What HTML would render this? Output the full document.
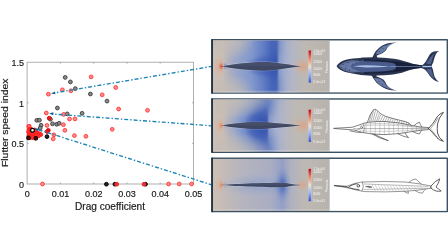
<!DOCTYPE html>
<html><head><meta charset="utf-8"><title>Flutter speed index vs drag coefficient</title>
<style>
html,body{margin:0;padding:0;background:#fff;}
body{width:448px;height:252px;overflow:hidden;font-family:"Liberation Sans",sans-serif;}
svg{display:block}
</style></head><body>
<svg width="448" height="252" viewBox="0 0 448 252">
<defs>
<linearGradient id="lr" x1="0" x2="1" y1="0" y2="0">
<stop offset="0" stop-color="#cdbfb4"/><stop offset="0.25" stop-color="#c2bcb8"/><stop offset="0.8" stop-color="#bdb8b2"/><stop offset="1" stop-color="#b7b2ab"/>
</linearGradient>
<radialGradient id="band"><stop offset="0" stop-color="#2f52ad" stop-opacity="0.95"/><stop offset="0.45" stop-color="#4466bb" stop-opacity="0.6"/><stop offset="1" stop-color="#7f98d0" stop-opacity="0"/></radialGradient>
<radialGradient id="haze"><stop offset="0" stop-color="#6f8ccc" stop-opacity="0.75"/><stop offset="0.6" stop-color="#8aa0d2" stop-opacity="0.4"/><stop offset="1" stop-color="#a8b4d0" stop-opacity="0"/></radialGradient>
<radialGradient id="redg"><stop offset="0" stop-color="#dd2a18" stop-opacity="1"/><stop offset="0.3" stop-color="#e6583a" stop-opacity="0.8"/><stop offset="1" stop-color="#e6906c" stop-opacity="0"/></radialGradient>
<radialGradient id="orgc"><stop offset="0" stop-color="#e8683c" stop-opacity="1"/><stop offset="0.35" stop-color="#e88458" stop-opacity="0.7"/><stop offset="1" stop-color="#e6a080" stop-opacity="0"/></radialGradient>
<radialGradient id="redg2"><stop offset="0" stop-color="#e88a64" stop-opacity="0.6"/><stop offset="0.5" stop-color="#e2a486" stop-opacity="0.28"/><stop offset="1" stop-color="#d8b4a0" stop-opacity="0"/></radialGradient>
<radialGradient id="lebl"><stop offset="0" stop-color="#4a78e0" stop-opacity="0.9"/><stop offset="1" stop-color="#8aa4dc" stop-opacity="0"/></radialGradient>
<radialGradient id="deepb"><stop offset="0" stop-color="#3453ae" stop-opacity="1"/><stop offset="0.6" stop-color="#3a59b2" stop-opacity="0.6"/><stop offset="1" stop-color="#4463b8" stop-opacity="0"/></radialGradient>
<radialGradient id="mask"><stop offset="0" stop-color="#c4bdb6" stop-opacity="0.95"/><stop offset="0.5" stop-color="#c3bcb6" stop-opacity="0.6"/><stop offset="1" stop-color="#c0bbb6" stop-opacity="0"/></radialGradient>
<linearGradient id="vfade" x1="0" x2="0" y1="0" y2="1"><stop offset="0" stop-color="#c0bbb6" stop-opacity="0.22"/><stop offset="0.4" stop-color="#c0bbb6" stop-opacity="0"/><stop offset="0.6" stop-color="#c0bbb6" stop-opacity="0"/><stop offset="1" stop-color="#c0bbb6" stop-opacity="0.22"/></linearGradient>
<radialGradient id="org"><stop offset="0" stop-color="#e89a70" stop-opacity="0.7"/><stop offset="1" stop-color="#d8b098" stop-opacity="0"/></radialGradient>
<linearGradient id="cbar" x1="0" x2="0" y1="0" y2="1"><stop offset="0" stop-color="#b40426"/><stop offset="0.25" stop-color="#ee8468"/><stop offset="0.5" stop-color="#e6e2e0"/><stop offset="0.75" stop-color="#8db0fe"/><stop offset="1" stop-color="#3550d8"/></linearGradient>
<filter id="bl2" x="-10%" y="-50%" width="120%" height="200%"><feGaussianBlur stdDeviation="0.35"/></filter>
<filter id="bl1" x="-10%" y="-10%" width="120%" height="120%"><feGaussianBlur stdDeviation="0.7"/></filter>
<clipPath id="clip1"><rect x="213" y="40.4" width="116.3" height="52.2"/></clipPath>
<clipPath id="clip2"><rect x="213" y="99.6" width="116.3" height="52.2"/></clipPath>
<clipPath id="clip3"><rect x="213" y="158.9" width="116.3" height="52.2"/></clipPath>
</defs>
<rect width="448" height="252" fill="#fff"/>
<!-- plot box -->
<rect x="27.1" y="62.2" width="166.4" height="121.8" fill="none" stroke="#9b9b9b" stroke-width="0.8"/>
<g stroke="#8a8a8a" stroke-width="0.6">
<path d="M60.4,184V182.4 M93.7,184V182.4 M127,184V182.4 M160.2,184V182.4 M60.4,62.2V63.8 M93.7,62.2V63.8 M127,62.2V63.8 M160.2,62.2V63.8"/>
<path d="M27.1,143.4H28.7 M27.1,102.8H28.7 M193.5,143.4H191.9 M193.5,102.8H191.9"/>
</g>
<g font-family="'Liberation Sans', sans-serif" font-size="9" fill="#1a1a1a" stroke="#1a1a1a" stroke-width="0.18">
<g text-anchor="end">
<text x="24" y="66.4">1.5</text>
<text x="24" y="106.9">1</text>
<text x="24" y="147.3">0.5</text>
<text x="24" y="187.6">0</text>
</g>
<g text-anchor="middle">
<text x="27.2" y="197.2">0</text>
<text x="60.4" y="197.2">0.01</text>
<text x="93.7" y="197.2">0.02</text>
<text x="127" y="197.2">0.03</text>
<text x="160.2" y="197.2">0.04</text>
<text x="193.5" y="197.2">0.05</text>
</g>
<text x="75" y="210.1" font-size="10.1">Drag coefficient</text>
<text transform="translate(7.9,167.1) rotate(-90) scale(1.16,1)" font-size="9">Flutter speed index</text>
</g>
<!-- points -->
<circle cx="65.2" cy="77.4" r="1.9" fill="#8a8a8a" stroke="#3a3a3a" stroke-width="0.9"/>
<circle cx="70.4" cy="81.9" r="1.9" fill="#8a8a8a" stroke="#3a3a3a" stroke-width="0.9"/>
<circle cx="75.3" cy="88.6" r="1.9" fill="#8a8a8a" stroke="#3a3a3a" stroke-width="0.9"/>
<circle cx="90.4" cy="94" r="1.9" fill="#8a8a8a" stroke="#3a3a3a" stroke-width="0.9"/>
<circle cx="57.4" cy="108" r="1.9" fill="#8a8a8a" stroke="#3a3a3a" stroke-width="0.9"/>
<circle cx="67.2" cy="113.9" r="1.9" fill="#8a8a8a" stroke="#3a3a3a" stroke-width="0.9"/>
<circle cx="82.1" cy="113.3" r="1.9" fill="#8a8a8a" stroke="#3a3a3a" stroke-width="0.9"/>
<circle cx="107" cy="101.1" r="1.9" fill="#8a8a8a" stroke="#3a3a3a" stroke-width="0.9"/>
<circle cx="36.8" cy="120.3" r="1.9" fill="#8a8a8a" stroke="#3a3a3a" stroke-width="0.9"/>
<circle cx="39.4" cy="120.2" r="1.9" fill="#8a8a8a" stroke="#3a3a3a" stroke-width="0.9"/>
<circle cx="50.4" cy="119.2" r="1.9" fill="#8a8a8a" stroke="#3a3a3a" stroke-width="0.9"/>
<circle cx="52.5" cy="123.8" r="1.9" fill="#8a8a8a" stroke="#3a3a3a" stroke-width="0.9"/>
<circle cx="56.7" cy="124.3" r="1.9" fill="#8a8a8a" stroke="#3a3a3a" stroke-width="0.9"/>
<circle cx="59.2" cy="123.3" r="1.9" fill="#8a8a8a" stroke="#3a3a3a" stroke-width="0.9"/>
<circle cx="41.1" cy="125.3" r="1.9" fill="#8a8a8a" stroke="#3a3a3a" stroke-width="0.9"/>
<circle cx="40.2" cy="128" r="1.9" fill="#8a8a8a" stroke="#3a3a3a" stroke-width="0.9"/>
<circle cx="47" cy="136.6" r="1.9" fill="#222" stroke="#000" stroke-width="0.9"/>
<circle cx="106.4" cy="184.2" r="1.9" fill="#222" stroke="#000" stroke-width="0.9"/>
<circle cx="114.9" cy="184.2" r="1.9" fill="#222" stroke="#000" stroke-width="0.9"/>
<circle cx="145.5" cy="184.2" r="1.9" fill="#222" stroke="#000" stroke-width="0.9"/>
<circle cx="48.4" cy="94.2" r="1.9" fill="#ff8a8a" stroke="#ff3a3a" stroke-width="0.9"/>
<circle cx="62.4" cy="89.8" r="1.9" fill="#ff8a8a" stroke="#ff3a3a" stroke-width="0.9"/>
<circle cx="70.9" cy="90.8" r="1.9" fill="#ff8a8a" stroke="#ff3a3a" stroke-width="0.9"/>
<circle cx="91.1" cy="76.9" r="1.9" fill="#ff8a8a" stroke="#ff3a3a" stroke-width="0.9"/>
<circle cx="115.7" cy="87.5" r="1.9" fill="#ff8a8a" stroke="#ff3a3a" stroke-width="0.9"/>
<circle cx="102.2" cy="94.8" r="1.9" fill="#ff8a8a" stroke="#ff3a3a" stroke-width="0.9"/>
<circle cx="46.3" cy="113" r="1.9" fill="#ff8a8a" stroke="#ff3a3a" stroke-width="0.9"/>
<circle cx="63.6" cy="114.4" r="1.9" fill="#ff8a8a" stroke="#ff3a3a" stroke-width="0.9"/>
<circle cx="69.5" cy="119" r="1.9" fill="#ff8a8a" stroke="#ff3a3a" stroke-width="0.9"/>
<circle cx="75" cy="118.9" r="1.9" fill="#ff8a8a" stroke="#ff3a3a" stroke-width="0.9"/>
<circle cx="118.6" cy="109" r="1.9" fill="#ff8a8a" stroke="#ff3a3a" stroke-width="0.9"/>
<circle cx="147.5" cy="110.3" r="1.9" fill="#ff8a8a" stroke="#ff3a3a" stroke-width="0.9"/>
<circle cx="112.2" cy="129.3" r="1.9" fill="#ff8a8a" stroke="#ff3a3a" stroke-width="0.9"/>
<circle cx="63.4" cy="124.7" r="1.9" fill="#ff8a8a" stroke="#ff3a3a" stroke-width="0.9"/>
<circle cx="47" cy="125.4" r="1.9" fill="#ff8a8a" stroke="#ff3a3a" stroke-width="0.9"/>
<circle cx="28.7" cy="126.5" r="1.9" fill="#ff8a8a" stroke="#ff3a3a" stroke-width="0.9"/>
<circle cx="85.9" cy="136.3" r="1.9" fill="#ff8a8a" stroke="#ff3a3a" stroke-width="0.9"/>
<circle cx="53.9" cy="134.8" r="1.9" fill="#ff8a8a" stroke="#ff3a3a" stroke-width="0.9"/>
<circle cx="53.2" cy="138.9" r="1.9" fill="#ff8a8a" stroke="#ff3a3a" stroke-width="0.9"/>
<circle cx="64.9" cy="130.3" r="1.9" fill="#ff8a8a" stroke="#ff3a3a" stroke-width="0.9"/>
<circle cx="74.4" cy="135.6" r="1.9" fill="#ff8a8a" stroke="#ff3a3a" stroke-width="0.9"/>
<circle cx="42.5" cy="184" r="1.9" fill="#ff8a8a" stroke="#ff3a3a" stroke-width="0.9"/>
<circle cx="168.6" cy="184" r="1.9" fill="#ff8a8a" stroke="#ff3a3a" stroke-width="0.9"/>
<circle cx="179.2" cy="184" r="1.9" fill="#ff8a8a" stroke="#ff3a3a" stroke-width="0.9"/>
<circle cx="191.6" cy="184" r="1.9" fill="#ff8a8a" stroke="#ff3a3a" stroke-width="0.9"/>
<circle cx="29.2" cy="126.2" r="1.9" fill="#ff6a6a" stroke="#ff3030" stroke-width="0.9"/>
<circle cx="29" cy="129.6" r="1.9" fill="#ff3030" stroke="#ff1a1a" stroke-width="0.9"/>
<circle cx="31" cy="129.2" r="1.9" fill="#ff3030" stroke="#ff1a1a" stroke-width="0.9"/>
<circle cx="34.6" cy="130" r="1.9" fill="#ff3030" stroke="#ff1a1a" stroke-width="0.9"/>
<circle cx="28.6" cy="132" r="1.9" fill="#ff3030" stroke="#ff1a1a" stroke-width="0.9"/>
<circle cx="30.5" cy="133.5" r="1.9" fill="#ff3030" stroke="#ff1a1a" stroke-width="0.9"/>
<circle cx="33" cy="134" r="1.9" fill="#ff3030" stroke="#ff1a1a" stroke-width="0.9"/>
<circle cx="35.5" cy="132.6" r="1.9" fill="#ff3030" stroke="#ff1a1a" stroke-width="0.9"/>
<circle cx="37.5" cy="133" r="1.9" fill="#ff3030" stroke="#ff1a1a" stroke-width="0.9"/>
<circle cx="39.5" cy="133.8" r="1.9" fill="#ff3030" stroke="#ff1a1a" stroke-width="0.9"/>
<circle cx="40.8" cy="134.6" r="1.9" fill="#ff3030" stroke="#ff1a1a" stroke-width="0.9"/>
<circle cx="36" cy="135.5" r="1.9" fill="#ff3030" stroke="#ff1a1a" stroke-width="0.9"/>
<circle cx="38.5" cy="135.8" r="1.9" fill="#ff3030" stroke="#ff1a1a" stroke-width="0.9"/>
<circle cx="33.5" cy="136.5" r="1.9" fill="#ff3030" stroke="#ff1a1a" stroke-width="0.9"/>
<circle cx="31" cy="136.5" r="1.9" fill="#ff3030" stroke="#ff1a1a" stroke-width="0.9"/>
<circle cx="29" cy="135.5" r="1.9" fill="#ff3030" stroke="#ff1a1a" stroke-width="0.9"/>
<circle cx="30.5" cy="137.6" r="1.9" fill="#ff3030" stroke="#ff1a1a" stroke-width="0.9"/>
<circle cx="33" cy="137.6" r="1.9" fill="#ff3030" stroke="#ff1a1a" stroke-width="0.9"/>
<circle cx="28.5" cy="137.9" r="1.8" fill="#5a0808" stroke="#100000" stroke-width="1.1"/>
<circle cx="35.8" cy="138.3" r="1.8" fill="#5a0808" stroke="#100000" stroke-width="1.1"/>
<circle cx="49.2" cy="118.2" r="1.9" fill="#f01818" stroke="#d01010" stroke-width="0.9"/>
<circle cx="48.3" cy="130.3" r="1.9" fill="#f01818" stroke="#d01010" stroke-width="0.9"/>
<circle cx="47.2" cy="131.5" r="1.9" fill="#f01818" stroke="#d01010" stroke-width="0.9"/>
<circle cx="116.7" cy="184.2" r="1.9" fill="#ee3030" stroke="#ee2020" stroke-width="0.9"/>
<circle cx="144" cy="184.2" r="1.9" fill="#ee3030" stroke="#ee2020" stroke-width="0.9"/>
<circle cx="32.5" cy="130.3" r="1.9" fill="#fff" stroke="#000" stroke-width="1.2"/>
<!-- leader lines -->
<g stroke="#1c84b4" stroke-width="1.35" fill="none" stroke-dasharray="4 2 1.4 2" stroke-dashoffset="1.0">
<path d="M211.6,66.4 L54,93"/>
<path d="M211.6,125.8 L52.5,114"/>
<path d="M211.6,184.8 L38,129.6"/>
</g>
<g fill="#0b5f90">
<path d="M51,93.45 L55,91.4 L55.4,94.2Z"/>
<path d="M49.2,113.55 L53.4,112.3 L53.2,115.2Z"/>
<path d="M34.6,128.6 L38.9,128.6 L38,131.3Z"/>
</g>

<g>
<rect x="211.2" y="39.1" width="236.8" height="54.6" rx="0.8" fill="#3c5262"/>
<rect x="211.2" y="39.1" width="1.9" height="54.6" rx="0.8" fill="#22384a"/>
<rect x="213" y="40.4" width="116.3" height="51.8" fill="#c3bcb5"/>
<clipPath id="lec1"><rect x="213" y="39.6" width="9.699999999999989" height="53.8"/></clipPath>
<clipPath id="sh1"><rect x="213" y="39.6" width="64.5" height="53.8"/></clipPath>
<g clip-path="url(#clip1)">
<rect x="213" y="39.6" width="117" height="53.8" fill="url(#lr)"/>

<linearGradient id="hb1" gradientUnits="userSpaceOnUse" x1="213" x2="329.3" y1="0" y2="0">
<stop offset="0" stop-color="#93a3cc" stop-opacity="0"/>
<stop offset="0.086" stop-color="#93a3cc" stop-opacity="0"/>
<stop offset="0.181" stop-color="#93a3cc" stop-opacity="0.50"/>
<stop offset="0.335" stop-color="#7f95cc" stop-opacity="0.95"/>
<stop offset="0.430" stop-color="#5b78c2" stop-opacity="1.00"/>
<stop offset="0.507" stop-color="#3c5bb3" stop-opacity="1.0"/>
<stop offset="0.544" stop-color="#3856af" stop-opacity="1.0"/>
<stop offset="0.572" stop-color="#8c9dca" stop-opacity="0.95"/>
<stop offset="0.619" stop-color="#a3aece" stop-opacity="0.85"/>
<stop offset="0.679" stop-color="#b0b6cc" stop-opacity="0.55"/>
<stop offset="0.765" stop-color="#b5b8c4" stop-opacity="0"/>
<stop offset="1" stop-color="#b5b8c4" stop-opacity="0"/>
</linearGradient>
<linearGradient id="hs1" gradientUnits="userSpaceOnUse" x1="213" x2="329.3" y1="0" y2="0">
<stop offset="0" stop-color="#93a3cc" stop-opacity="0"/>
<stop offset="0.086" stop-color="#93a3cc" stop-opacity="0"/>
<stop offset="0.181" stop-color="#93a3cc" stop-opacity="0.50"/>
<stop offset="0.335" stop-color="#8399cc" stop-opacity="0.95"/>
<stop offset="0.430" stop-color="#6a84c6" stop-opacity="1.00"/>
<stop offset="0.499" stop-color="#506dbe" stop-opacity="1.0"/>
<stop offset="0.546" stop-color="#506dbe" stop-opacity="1.0"/>
<stop offset="0.585" stop-color="#8296c8" stop-opacity="0.95"/>
<stop offset="0.636" stop-color="#a3aece" stop-opacity="0.85"/>
<stop offset="0.705" stop-color="#b0b6cc" stop-opacity="0.50"/>
<stop offset="0.800" stop-color="#b5b8c4" stop-opacity="0"/>
<stop offset="1" stop-color="#b5b8c4" stop-opacity="0"/>
</linearGradient>
<linearGradient id="vm1" gradientUnits="userSpaceOnUse" x1="0" x2="0" y1="39.6" y2="93.4">
<stop offset="0" stop-color="#fff" stop-opacity="0.35"/>
<stop offset="0.217" stop-color="#fff" stop-opacity="0.5"/>
<stop offset="0.366" stop-color="#fff" stop-opacity="1"/>
<stop offset="0.626" stop-color="#fff" stop-opacity="1"/>
<stop offset="0.775" stop-color="#fff" stop-opacity="0.5"/>
<stop offset="1" stop-color="#fff" stop-opacity="0.35"/>
</linearGradient>
<mask id="mk1" maskUnits="userSpaceOnUse" x="213" y="39.6" width="117" height="53.8"><rect x="213" y="39.6" width="117" height="53.8" fill="url(#vm1)"/></mask>
<clipPath id="cu1"><rect x="213" y="39.6" width="117" height="26.699999999999996"/></clipPath>
<clipPath id="cl1"><rect x="213" y="66.3" width="117" height="27.10000000000001"/></clipPath>
<g clip-path="url(#cu1)"><g transform="translate(0,66.3) skewX(-0.00) translate(0,-66.3)"><rect x="150" y="38.6" width="240" height="27.699999999999996" fill="url(#hs1)"/></g></g>
<g clip-path="url(#cl1)"><g transform="translate(0,66.3) skewX(0.00) translate(0,-66.3)"><rect x="150" y="66.3" width="240" height="28.10000000000001" fill="url(#hs1)"/></g></g>
<g mask="url(#mk1)"><rect x="213" y="39.6" width="117" height="53.8" fill="url(#hb1)"/></g>
<ellipse cx="268" cy="66.3" rx="24" ry="12" fill="url(#deepb)" opacity="0.7" clip-path="url(#sh1)"/>
<ellipse cx="228" cy="35.6" rx="28" ry="24" fill="url(#mask)"/>
<ellipse cx="228" cy="97.4" rx="28" ry="24" fill="url(#mask)"/>
<g clip-path="url(#lec1)"><ellipse cx="221.5" cy="66.3" rx="10.0" ry="12.0" fill="url(#redg2)"/><ellipse cx="221.5" cy="66.3" rx="3.2" ry="4.0" fill="url(#redg)"/></g>
<ellipse cx="225.1" cy="64.39999999999999" rx="2.4" ry="1.7" fill="url(#lebl)" opacity="0.75"/><ellipse cx="225.1" cy="68.2" rx="2.4" ry="1.7" fill="url(#lebl)" opacity="0.75"/>
<ellipse cx="302.6" cy="66.3" rx="11.0" ry="9.0" fill="url(#org)"/>
<path d="M221.5,66.3 C229.5,64.452 250,61.9 265,61.9 C273,61.9 285.6,64.276 301.6,66.3 C285.6,68.324 273,70.7 265,70.7 C250,70.7 229.5,68.148 221.5,66.3 Z" fill="none" stroke="#e4e6ee" stroke-width="1.1" opacity="0.32" filter="url(#bl2)"/>
<path d="M221.5,66.3 C229.5,64.452 250,61.9 265,61.9 C273,61.9 285.6,64.276 301.6,66.3 C285.6,68.324 273,70.7 265,70.7 C250,70.7 229.5,68.148 221.5,66.3 Z" fill="#3f4862"/>
<path d="M221.5,66.3 C229.5,64.452 250,61.9 265,61.9 C273,61.9 285.6,64.276 301.6,66.3 Z" fill="#525d78" opacity="0.35"/>
<rect x="308.2" y="50.2" width="3" height="32.7" fill="url(#cbar)" stroke="#dccdb0" stroke-width="0.35"/>
<g font-family="'Liberation Sans', sans-serif" font-size="3.2" fill="#ffffff" fill-opacity="0.88">
<text x="313.3" y="51.5">1.5e+04</text>
<text x="313.3" y="54.900000000000006">14000</text>
<text x="313.3" y="62.900000000000006">12000</text>
<text x="313.3" y="70.0">10000</text>
<text x="313.3" y="76.0">8000</text>
<text x="313.3" y="83.30000000000001">5.0e+03</text>
<text transform="translate(328.1,67.2) rotate(-90)" font-size="3" text-anchor="middle">Pressure</text>
</g>
<rect x="213" y="90.80000000000001" width="117" height="1" fill="#dad6d2" opacity="0.45"/>
</g>
<rect x="329.4" y="40.5" width="117.2" height="51.9" fill="#ffffff"/>
</g>

<g>
<rect x="211.2" y="98.3" width="236.8" height="54.6" rx="0.8" fill="#3c5262"/>
<rect x="211.2" y="98.3" width="1.9" height="54.6" rx="0.8" fill="#22384a"/>
<rect x="213" y="99.6" width="116.3" height="51.8" fill="#c3bcb5"/>
<clipPath id="lec2"><rect x="213" y="98.8" width="9.699999999999989" height="53.8"/></clipPath>
<clipPath id="sh2"><rect x="213" y="98.8" width="54.5" height="53.8"/></clipPath>
<g clip-path="url(#clip2)">
<rect x="213" y="98.8" width="117" height="53.8" fill="url(#lr)"/>

<linearGradient id="hb2" gradientUnits="userSpaceOnUse" x1="213" x2="329.3" y1="0" y2="0">
<stop offset="0" stop-color="#93a3cc" stop-opacity="0"/>
<stop offset="0.086" stop-color="#93a3cc" stop-opacity="0"/>
<stop offset="0.181" stop-color="#93a3cc" stop-opacity="0.50"/>
<stop offset="0.249" stop-color="#7f95cc" stop-opacity="0.95"/>
<stop offset="0.344" stop-color="#5b78c2" stop-opacity="1.00"/>
<stop offset="0.421" stop-color="#3f5db4" stop-opacity="0.95"/>
<stop offset="0.458" stop-color="#3b59b0" stop-opacity="0.95"/>
<stop offset="0.486" stop-color="#8c9dca" stop-opacity="0.95"/>
<stop offset="0.533" stop-color="#a3aece" stop-opacity="0.85"/>
<stop offset="0.593" stop-color="#b0b6cc" stop-opacity="0.55"/>
<stop offset="0.679" stop-color="#b5b8c4" stop-opacity="0"/>
<stop offset="1" stop-color="#b5b8c4" stop-opacity="0"/>
</linearGradient>
<linearGradient id="hs2" gradientUnits="userSpaceOnUse" x1="213" x2="329.3" y1="0" y2="0">
<stop offset="0" stop-color="#93a3cc" stop-opacity="0"/>
<stop offset="0.086" stop-color="#93a3cc" stop-opacity="0"/>
<stop offset="0.181" stop-color="#93a3cc" stop-opacity="0.50"/>
<stop offset="0.249" stop-color="#8399cc" stop-opacity="0.95"/>
<stop offset="0.344" stop-color="#6a84c6" stop-opacity="1.00"/>
<stop offset="0.413" stop-color="#5e7ac2" stop-opacity="0.95"/>
<stop offset="0.460" stop-color="#5e7ac2" stop-opacity="0.95"/>
<stop offset="0.499" stop-color="#8296c8" stop-opacity="0.95"/>
<stop offset="0.550" stop-color="#a3aece" stop-opacity="0.85"/>
<stop offset="0.619" stop-color="#b0b6cc" stop-opacity="0.50"/>
<stop offset="0.714" stop-color="#b5b8c4" stop-opacity="0"/>
<stop offset="1" stop-color="#b5b8c4" stop-opacity="0"/>
</linearGradient>
<linearGradient id="vm2" gradientUnits="userSpaceOnUse" x1="0" x2="0" y1="98.8" y2="152.6">
<stop offset="0" stop-color="#fff" stop-opacity="0.1"/>
<stop offset="0.255" stop-color="#fff" stop-opacity="0.25"/>
<stop offset="0.403" stop-color="#fff" stop-opacity="1"/>
<stop offset="0.589" stop-color="#fff" stop-opacity="1"/>
<stop offset="0.738" stop-color="#fff" stop-opacity="0.25"/>
<stop offset="1" stop-color="#fff" stop-opacity="0.1"/>
</linearGradient>
<mask id="mk2" maskUnits="userSpaceOnUse" x="213" y="98.8" width="117" height="53.8"><rect x="213" y="98.8" width="117" height="53.8" fill="url(#vm2)"/></mask>
<clipPath id="cu2"><rect x="213" y="98.8" width="117" height="26.700000000000003"/></clipPath>
<clipPath id="cl2"><rect x="213" y="125.5" width="117" height="27.099999999999994"/></clipPath>
<g clip-path="url(#cu2)"><g transform="translate(0,125.5) skewX(-6.84) translate(0,-125.5)"><rect x="150" y="97.8" width="240" height="27.700000000000003" fill="url(#hs2)"/></g></g>
<g clip-path="url(#cl2)"><g transform="translate(0,125.5) skewX(6.84) translate(0,-125.5)"><rect x="150" y="125.5" width="240" height="28.099999999999994" fill="url(#hs2)"/></g></g>
<g mask="url(#mk2)"><rect x="213" y="98.8" width="117" height="53.8" fill="url(#hb2)"/></g>
<ellipse cx="261" cy="125.5" rx="17" ry="22" fill="url(#deepb)" opacity="0.9" clip-path="url(#sh2)"/>
<ellipse cx="237" cy="94.8" rx="37" ry="24" fill="url(#mask)"/>
<ellipse cx="237" cy="156.6" rx="37" ry="24" fill="url(#mask)"/>
<g clip-path="url(#lec2)"><ellipse cx="221.5" cy="125.5" rx="7.8" ry="9.4" fill="url(#redg2)"/><ellipse cx="221.5" cy="125.5" rx="2.5" ry="3.1" fill="url(#orgc)"/></g>
<ellipse cx="225.1" cy="123.6" rx="2.4" ry="1.7" fill="url(#lebl)" opacity="0.25"/><ellipse cx="225.1" cy="127.4" rx="2.4" ry="1.7" fill="url(#lebl)" opacity="0.25"/>
<ellipse cx="302.6" cy="125.5" rx="11.0" ry="9.0" fill="url(#org)"/>
<path d="M221.5,125.5 C229.5,124.03 244,122.0 259,122.0 C267,122.0 285.6,123.89 301.6,125.5 C285.6,127.11 267,129.0 259,129.0 C244,129.0 229.5,126.97 221.5,125.5 Z" fill="none" stroke="#e4e6ee" stroke-width="1.1" opacity="0.32" filter="url(#bl2)"/>
<path d="M221.5,125.5 C229.5,124.03 244,122.0 259,122.0 C267,122.0 285.6,123.89 301.6,125.5 C285.6,127.11 267,129.0 259,129.0 C244,129.0 229.5,126.97 221.5,125.5 Z" fill="#3f4862"/>
<path d="M221.5,125.5 C229.5,124.03 244,122.0 259,122.0 C267,122.0 285.6,123.89 301.6,125.5 Z" fill="#525d78" opacity="0.35"/>
<rect x="308.2" y="109.39999999999999" width="3" height="32.7" fill="url(#cbar)" stroke="#dccdb0" stroke-width="0.35"/>
<g font-family="'Liberation Sans', sans-serif" font-size="3.2" fill="#ffffff" fill-opacity="0.88">
<text x="313.3" y="110.7">1.5e+04</text>
<text x="313.3" y="114.1">14000</text>
<text x="313.3" y="122.1">12000</text>
<text x="313.3" y="129.2">10000</text>
<text x="313.3" y="135.2">8000</text>
<text x="313.3" y="142.5">5.0e+03</text>
<text transform="translate(328.1,126.4) rotate(-90)" font-size="3" text-anchor="middle">Pressure</text>
</g>
<rect x="213" y="150.0" width="117" height="1" fill="#dad6d2" opacity="0.45"/>
</g>
<rect x="329.4" y="99.7" width="117.2" height="51.9" fill="#ffffff"/>
</g>

<g>
<rect x="211.2" y="157.6" width="236.8" height="54.6" rx="0.8" fill="#3c5262"/>
<rect x="211.2" y="157.6" width="1.9" height="54.6" rx="0.8" fill="#22384a"/>
<rect x="213" y="158.9" width="116.3" height="51.8" fill="#c3bcb5"/>
<clipPath id="lec3"><rect x="213" y="158.1" width="9.699999999999989" height="53.8"/></clipPath>
<clipPath id="sh3"><rect x="213" y="158.1" width="71.0" height="53.8"/></clipPath>
<g clip-path="url(#clip3)">
<rect x="213" y="158.1" width="117" height="53.8" fill="url(#lr)"/>

<linearGradient id="hb3" gradientUnits="userSpaceOnUse" x1="213" x2="329.3" y1="0" y2="0">
<stop offset="0" stop-color="#a6acc6" stop-opacity="0"/>
<stop offset="0.043" stop-color="#a6acc6" stop-opacity="0"/>
<stop offset="0.163" stop-color="#a6acc6" stop-opacity="0.28"/>
<stop offset="0.301" stop-color="#a6acc6" stop-opacity="0.55"/>
<stop offset="0.494" stop-color="#a0a8c8" stop-opacity="0.7"/>
<stop offset="0.598" stop-color="#8c9aca" stop-opacity="0.85"/>
<stop offset="0.675" stop-color="#a6acc6" stop-opacity="0.6"/>
<stop offset="0.804" stop-color="#b0b2c0" stop-opacity="0"/>
<stop offset="1" stop-color="#b0b2c0" stop-opacity="0"/>
</linearGradient>
<rect x="213" y="158.1" width="117" height="53.8" fill="url(#hb3)"/>
<ellipse cx="258.5" cy="185.0" rx="42" ry="13" fill="url(#haze)" opacity="0.6"/>
<ellipse cx="282.5" cy="185.0" rx="9" ry="19" fill="url(#band)" opacity="0.6"/>
<ellipse cx="282.5" cy="185.0" rx="5" ry="11" fill="url(#band)" opacity="0.5"/>
<g clip-path="url(#lec3)"><ellipse cx="221.5" cy="185.0" rx="7.2" ry="8.6" fill="url(#redg2)"/><ellipse cx="221.5" cy="185.0" rx="2.3" ry="2.9" fill="url(#orgc)"/></g>
<ellipse cx="225.1" cy="183.1" rx="2.4" ry="1.7" fill="url(#lebl)" opacity="0.25"/><ellipse cx="225.1" cy="186.9" rx="2.4" ry="1.7" fill="url(#lebl)" opacity="0.25"/>
<ellipse cx="302.6" cy="185.0" rx="7.7" ry="6.3" fill="url(#org)"/>
<path d="M221.5,185.0 C229.5,184.034 266,182.7 281,182.7 C289,182.7 285.6,183.942 301.6,185.0 C285.6,186.058 289,187.3 281,187.3 C266,187.3 229.5,185.966 221.5,185.0 Z" fill="none" stroke="#e4e6ee" stroke-width="1.1" opacity="0.32" filter="url(#bl2)"/>
<path d="M221.5,185.0 C229.5,184.034 266,182.7 281,182.7 C289,182.7 285.6,183.942 301.6,185.0 C285.6,186.058 289,187.3 281,187.3 C266,187.3 229.5,185.966 221.5,185.0 Z" fill="#3f4862"/>
<path d="M221.5,185.0 C229.5,184.034 266,182.7 281,182.7 C289,182.7 285.6,183.942 301.6,185.0 Z" fill="#525d78" opacity="0.35"/>
<rect x="308.2" y="168.7" width="3" height="32.7" fill="url(#cbar)" stroke="#dccdb0" stroke-width="0.35"/>
<g font-family="'Liberation Sans', sans-serif" font-size="3.2" fill="#ffffff" fill-opacity="0.88">
<text x="313.3" y="170.0">1.5e+04</text>
<text x="313.3" y="173.4">14000</text>
<text x="313.3" y="181.4">12000</text>
<text x="313.3" y="188.5">10000</text>
<text x="313.3" y="194.5">8000</text>
<text x="313.3" y="201.8">5.0e+03</text>
<text transform="translate(328.1,185.7) rotate(-90)" font-size="3" text-anchor="middle">Pressure</text>
</g>
<rect x="213" y="209.29999999999998" width="117" height="1" fill="#dad6d2" opacity="0.45"/>
</g>
<rect x="329.4" y="159.0" width="117.2" height="51.9" fill="#ffffff"/>
</g>

<g>
<path d="M336.6,66.3 Q337.5,63.5 342.3,60.9 Q346,59.6 349.4,59.1 Q353,58.5 356.6,58.3 L360,57.9 Q361.6,57.2 363.5,57.6 L372.3,57.3
 L372.9,56.6 Q373.5,54.8 374.3,53.4 Q375.5,51 377.4,49.4 Q379.5,47.3 381.9,45.8 Q384.5,44.4 387.2,43.6 Q390,42.9 392.6,42.7 L397,42.4
 Q393,43 390.8,44 Q389,45 388.1,46.3 Q387.2,48 386.3,49.8 Q385.3,51 384.1,52 Q382.3,53.3 380.1,54.3 Q378,55 376.6,55.7 L377.4,57.4
 Q390,57.8 398.3,59.4 Q402,60.4 405.4,61.6 Q409,62.7 412.6,63.7 Q416.5,64.7 419.7,65.1 L422.6,65.1
 Q424.5,63.5 426.1,60.9 Q428,57.5 429.7,54.4 Q431.5,52.3 434,51.6 Q436.5,51 439,50.9 Q437,52 436.1,53.7 Q434.8,56.5 434,59.4 Q433.2,63 431.9,65.1 L431.6,66.5
 Q433,69 433.3,71.4 Q433.8,74.5 434.7,77.1 Q436,80 439,81.7 Q436,81.6 434,80 Q431.5,78.2 429.7,75.7 Q427.5,72.5 425.4,70 Q423.5,68.3 421.1,67.9
 Q417,68.3 412.6,69.3 Q409,70.3 405.4,71.4 Q402,72.6 398.3,73.6 Q394.5,74.4 391,74.7 Q384,75.4 376.8,75.6
 L376,76.2 Q377.8,76.7 379.2,77.4 Q381.5,78.4 383.2,79.6 Q384.5,80.8 385.4,82.3 Q386.2,84 387.2,85.4 Q388.8,87.2 390.8,88.5 Q393.5,89.8 397,90.6
 L391.7,90.3 Q389,89.9 386.3,89 Q383.5,87.8 381,86.3 Q378.5,84.6 376.5,82.7 Q375,81 373.8,79.1 Q372.7,77.5 372,76 L371.5,75.7
 L360.9,75 Q356.5,74.5 352.3,73.6 Q348.5,73 345.1,72.1 Q342,71 339.4,69.3 Q337.3,68 336.6,66.3 Z" fill="#2a3552"/>
<g filter="url(#bl1)">
<path d="M340,66.4 Q350,60.8 368,60.3 Q384,61 396,64 L396,69 Q384,72 368,72.8 Q350,72.3 340,66.4Z" fill="#51669a" opacity="0.8"/>
<path d="M338.5,66.3 Q342,62 351,60.3 Q357,60 360,61.5 Q352,63.5 350.5,66.3 Q352,69.5 360,71.3 Q356,72.8 350,72.4 Q342,70.8 338.5,66.3Z" fill="#7d90ba" opacity="0.6"/>
<path d="M375.5,54 Q378,49.5 383,46.3 Q388,44 394,43.2 Q389.5,45 387,48 Q385,51.5 381,53.3 Q378,54.5 375.5,54Z" fill="#7287b6" opacity="0.85"/>
<path d="M374,78 Q376,82 380.5,85.3 Q385.5,88.3 393,89.9 Q388.5,88 386,85 Q384,81.5 381,79.3 Q377.5,77.8 374,78Z" fill="#7287b6" opacity="0.85"/>
<path d="M426,63.5 Q429.5,58 434.5,52.8 Q432.5,58 430.8,64.2Z" fill="#5f74a6" opacity="0.7"/>
<path d="M426,69.5 Q429.5,75 434.5,79.8 Q432.5,74.5 431.2,68.8Z" fill="#5f74a6" opacity="0.7"/>
<path d="M364,59 Q388,59.4 410,64 Q388,62 364,61.2Z" fill="#151c32" opacity="0.7"/>
<path d="M364,74 Q388,73.8 410,69.4 Q388,71.4 364,72Z" fill="#151c32" opacity="0.7"/>
<path d="M392,61.5 Q408,63 421.5,65.3 L421.5,67.7 Q408,70.2 392,71.8 Q400,66.5 392,61.5Z" fill="#141a30" opacity="0.75"/>
</g>
<g filter="url(#bl2)">
<path d="M353,66.3 Q362,64.8 374,65.6 Q384,66 390,66.4 Q384,67 374,67.3 Q362,67.9 353,66.3Z" fill="#b4cbf2" opacity="0.9"/>
<path d="M390,66.1 L421,66.3 L421,66.9 L390,66.9Z" fill="#7f9acb" opacity="0.7"/>
</g>
<g fill="#1c2540" opacity="0.65">
<circle cx="343" cy="64.5" r="0.6"/><circle cx="345.5" cy="68.6" r="0.6"/><circle cx="348" cy="62.6" r="0.6"/><circle cx="349.5" cy="70.4" r="0.6"/><circle cx="341" cy="67.3" r="0.5"/><circle cx="352.5" cy="64" r="0.5"/><circle cx="353" cy="69" r="0.5"/><circle cx="346" cy="65.8" r="0.5"/><circle cx="356" cy="62" r="0.5"/><circle cx="357" cy="71" r="0.5"/>
<circle cx="379.5" cy="51.5" r="0.5"/><circle cx="383" cy="48.6" r="0.5"/><circle cx="386.5" cy="46" r="0.45"/><circle cx="379" cy="81.5" r="0.5"/><circle cx="382.5" cy="84.3" r="0.5"/><circle cx="386.5" cy="87" r="0.45"/>
</g>
<path d="M422.3,65.9 L431.6,65.9 L431.6,67.2 L422.3,67.2Z" fill="#a9c6ee"/>
</g>

<g fill="none" stroke-linecap="round" stroke-linejoin="round">
<g stroke="#9a9a9a" stroke-width="0.45">
<path d="M366.0,123.1 L366.0,132.9 M370.6,122.2 L370.6,133.8 M375.2,121.9 L375.2,134.1 M379.8,121.8 L379.8,134.2 M384.4,121.8 L384.4,134.3 M389.0,122.1 L389.0,134.1 M393.6,122.4 L393.6,133.8 M398.2,122.8 L398.2,133.6 M402.8,123.6 L402.8,133.0 M407.4,124.7 L407.4,132.1 M412.0,125.8 L412.0,131.3 M416.6,126.7 L416.6,130.5 M421.2,127.5 L421.2,129.8"/>
<path d="M360,126 Q385,123.3 425,128 M360,130.8 Q385,132.6 425,129.4 M364,124.3 Q385,121.9 412,126.3"/>
</g>
<g stroke="#6a6a6a" stroke-width="0.5">
<path d="M369.3,121.7 L371.5,112.5 M371,121.5 L373.5,110.3 M372.8,121.4 L375.6,109.8 M374.6,121.3 L377.6,111.8 M376.4,121.2 L379.3,113.8 M378,121.2 L380.8,115 M380.3,121.3 L382.8,116 M382.6,121.4 L384.9,116.7 M385,121.5 L387,117.3 M387.3,121.7 L389.1,117.9 M389.6,121.9 L391.2,118.4 M392,122.1 L393.4,119 M394.3,122.4 L395.5,119.5 M396.6,122.7 L397.7,120.1 M399,123 L399.9,120.7 M401.3,123.4 L402.1,121.2 M403.6,123.8 L404.3,121.7 M406,124.2 L406.5,122.3 M408.3,124.7 L408.6,123"/>
<path d="M358,128.6 L428,128.6"/>
</g>
<g stroke="#4c4c4c" stroke-width="0.7">
<path d="M334,128.3 L352,127.3 Q358,125.5 364,123.2 Q372,121.2 385,121.5 Q400,122.5 412,125.5 Q420,127.3 428.5,127.6 M428.5,129.6 Q420,130.2 412,131.6 Q400,134 385,134.6 Q372,134.6 363,132.6 Q358,131.3 354,130 L334,128.5"/>
<path d="M350,130.8 Q355,132.2 361,132.6"/>
<path d="M367.5,122 Q369.5,114.5 373.5,109.6 Q375.3,108.4 377.2,110.6 Q380.5,114.5 386,116.5 Q396,119.5 405,121.5 Q409,122.5 411,124.8"/>
<path d="M428.5,128.6 Q434,123 437,117 Q439.5,113.5 443.5,112.3 Q438.5,118 437.5,124 Q437,128.6 437.5,133 Q438.5,138 443.5,141.3 Q439,140.5 436.5,137 Q433,133 428.5,128.6Z" stroke-width="0.9" stroke="#444"/>
<path d="M430.5,128.6 Q435,124 438,118 M430.5,128.8 Q434.5,133 438,139" stroke-width="0.5"/>
<path d="M414,125.7 Q416.5,123 419.5,122.2 Q420,124.5 421.5,126.6"/>
<path d="M413,131.7 Q416,133.5 419.5,134 Q420,132 421.5,130.6"/>
<path d="M398,133.8 Q403,136.5 408.5,137.6 Q406,135 405,132.8"/>
<path d="M372,133.8 Q378,138 388,140.6 M373.5,134 Q380,137 388,140.6"/>
<circle cx="361.5" cy="127.4" r="1" stroke-width="0.5"/>
<path d="M363.5,124.5 Q365.5,128.5 363.5,132.5" stroke-width="0.5"/>
<path d="M354,128.6 Q357,129.4 360,129.2" stroke-width="0.5"/>
</g>
</g>

<g fill="none" stroke="#5e5e5e" stroke-width="0.65" stroke-linecap="round" stroke-linejoin="round">
<path d="M334.5,185.6 L347,186.2 Q354,183 362,182 Q385,181 405,182 Q420,183.5 431,186 L431,188.2 Q420,190.3 405,191.3 Q385,192.3 365,191.6 Q356,190.5 349,188 L334.5,185.6Z"/>
<path d="M334.5,185.6 L347,186.9 L349,188" stroke="#444" stroke-width="0.9"/>
<path d="M362.5,182 Q364.5,186.5 362,191"/>
<circle cx="358.3" cy="185.8" r="1.3" stroke="#333" stroke-width="0.8"/>
<path d="M349,186.6 Q353,184.2 357,183.6 M350,188 Q354,189.4 359,189.6" stroke="#3a3a3a" stroke-width="0.8"/>
<path d="M366,186.5 Q369,185.5 372,187.3 Q369,187.8 366,186.5Z" fill="#666"/>
<path d="M364,184 L428,186.3 M364,189.5 L428,188.2" stroke="#9a9a9a"/>
<path d="M372,184.5 L375,190.5 M375,184.5 L378,190.7 M378,184.6 L381,190.8 M381,184.6 L384,190.9 M384,184.7 L387,190.9 M387,184.8 L390,190.9 M390,184.9 L393,190.8 M393,185 L396,190.7 M396,185.1 L399,190.6 M399,185.2 L402,190.5 M402,185.3 L405,190.3 M405,185.4 L408,190.1 M408,185.6 L411,189.9 M411,185.8 L414,189.6 M414,186 L417,189.3 M417,186.2 L420,189 M420,186.4 L423,188.7" stroke="#a5a5a5" stroke-width="0.45"/>
<path d="M409,182.2 Q412,179.2 416,179 Q417.5,181 421,183.8"/>
<path d="M415,190.6 Q419,193.3 422.5,193.2 Q423,191 425.5,189.3"/>
<path d="M404,191.3 Q406,193.2 408.5,193.3 L408,191.1" />
<path d="M431,186 Q435,181 439.8,178.8 Q438.5,183.5 436,187 Q438.5,189 441.2,191 Q436,192.5 431,188.2Z" stroke="#484848" stroke-width="0.85"/>
</g>
</svg>
</body></html>
